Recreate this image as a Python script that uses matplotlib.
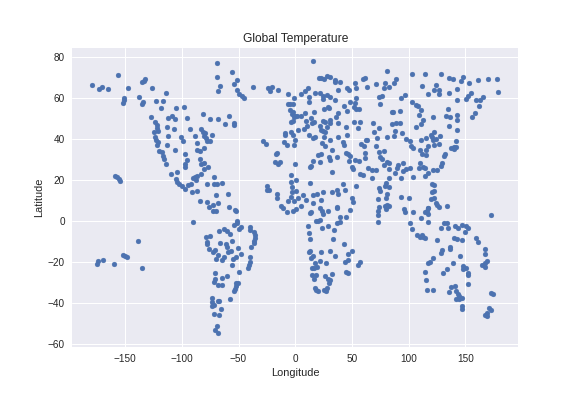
#!/usr/bin/python3
import matplotlib
matplotlib.use('Agg')
import matplotlib.pyplot as plt

title = 'Global Temperature'
xlabel = 'Longitude'
ylabel = 'Latitude'

# north america + pacific north
lon_na = [-179,-172.8,-170.2,-164.9,-156.1,-147.4,-150.9,-150.9,-151.8,-137.7,-135.1,-133.6,-132.5,-126.3,-114,-134.2,-135.1,-122.8,-116.7,-118.4,-105.3,-98.2,-127.2,-123.7,-121.9,-112.3,-108.8,-106.1,-95.6,-81.6,-75.4,-67.8,-121.9,-124.6,-121,-113.2,-107,-93,-83.3,-81.6,-79.8,-80.7,-88.6,-100.9,-99.1,-112.3,-123.7,-122.8,-121,-121.9,-113.2,-106.1,-86.8,-80.7,-86.8,-84.2,-73.4,-78.7,-78.1,-75.4,-120.2,-117.5,-116.7,-115.8,-114,-97.4,-95.6,-97.4,-97.4,-84.2,-83.3,-80.7,-77.2,-80.7,-83.3,-109.6,-104.4,-105.3,-104.4,-102.6,-100,-97.1,-94.7,-92.1,-91.2,-86.8,-90.4,-88.6,-86.8,-87.7,-71.6,-78.1,-71.6,-68.7,-70.2,-84.2,-78.1,-72.8,-76.3,-67.8,-158.8,-157,-155.3,-154.4,-69.3,-69.3,-68.4,-66,-64.3,-59.6,-58,-61.7,-53.8,-53.8]
lat_na = [66.3,64.4,65.3,64.4,71.2,64.9,60.1,59.1,57.5,60.4,67.8,68.3,69.2,64.8,62.4,58,57,58.5,58.5,55.1,55.1,55.5,50.7,48.2,46.7,50.2,51.1,49.7,50.2,52.1,49.7,49.7,45.3,43.3,43.8,45.8,44.8,44.8,44.8,43.3,42.8,41.4,41.4,40.9,38.9,41.4,40.9,39.4,38.4,37,37,34.5,37.9,35.5,34.5,34,41.9,40.4,38.9,38.9,34,33.7,31.6,30.1,27.7,32.6,29.6,27.5,26.2,30.1,27.7,28.2,26.2,25.2,22.6,22.8,23.8,20.3,18.9,17.9,16.9,15.5,17.4,17.9,14,14.5,20.8,21.3,21.8,19.9,21.3,17.9,17.9,18.2,12.5,9.6,9.1,7.8,6.6,8.8,21.8,21.3,20.3,19.4,77,70.2,63.4,65.8,18.4,13,51.1,47.2,47.7,46.7]

# south america + pacific south
lon_sa = [-90.3,-58.8,-53.5,-52.3,-72.8,-69.9,-51.8,-51.8,-54.4,-48.2,-50,-40.3,-39.5,-36,-35.1,-35.1,-36,-36.8,-38.6,-39.5,-40.3,-41.2,-42.1,-50,-48.2,-50.9,-56.1,-57.9,-60.5,-63.2,-67.5,-75.4,-78.9,-78.1,-78.1,-66.7,-61.4,-60.5,-59.7,-57,-76.3,-72.8,-71,-68.4,-70.2,-64.9,-63.2,-55.3,-52.7,-56.1,-71,-64.9,-60.5,-71,-71.9,-68.4,-64.9,-52.7,-50.9,-52.7,-53.5,-54.4,-57.9,-73.7,-73.7,-71.9,-73.7,-68.4,-67.5,-65.8,-71.9,-67.5,-69.3,-71,-68.4,-138.6,-151.8,-150,-148.8,-159.6,-169.3,-173.7,-174.6,-135.1]
lat_sa = [-0.5,6.5,5.4,4.9,4.9,4.9,0,-1,-2,-2.9,-3.9,-2.9,-4.4,-5.4,-6.8,-8.3,-9.8,-10.8,-12.7,-17.6,-20,-21.5,-23,-24.9,-16.1,-13.2,-9.8,-6.4,-4.9,-3.9,-4.9,-7.3,-7.8,-10.3,-11.2,-10.8,-11.2,-12.7,-15.2,-14.7,-13.7,-15.2,-14.2,-16.6,-18.6,-19.1,-17.6,-18.6,-17.6,-21.5,-25.4,-27.9,-26.9,-28.4,-29.8,-31.3,-31.3,-30.3,-30.3,-31.8,-33.3,-34.2,-38.1,-37.7,-39.6,-41.1,-41.6,-39.1,-39.1,-43,-45.5,-46,-51.3,-53.3,-54.8,-9.8,-16.6,-17.3,-17.6,-21,-19.1,-19.6,-21,-23]

# greenland, europe, africa north, west asia
lon_eu = [-55.6,-53.8,-51.2,-51.2,-49.4,-46.8,-45,-37.1,-23.9,-22.2,-20.4,-15.2,-6.4,-1.2,15.5,5,8.5,11.1,12,12,17.3,21.6,24.3,24.3,27.8,30.4,34.8,20.8,22.5,25.1,27.8,30.4,34.8,34.8,39.2,37.4,45.3,47,52.3,53.2,59.4,61.1,63.7,53.8,48,42.7,52.3,51.5,53.2,55.8,45.3,37.4,35.7,28.7,25.1,29.5,16.4,8.5,5,1.5,-0.3,-2,-2.9,-4.7,-6.4,-4.7,-2,-1.2,-3.8,-2,9.4,13.7,16.4,14.6,10.2,7.6,2.3,24.3,26,30.4,30.4,37.4,21.6,22.5,24.3,27.8,26,44.4,51.5,56.7,55,45.3,37.4,30.4,25.1,17.3,15.5,12,-0.3,-2,-3.8,-9.1,-9.1,-1.2,-7.3,-9.9,-28.4,-25.7,23.4,26,32.2,41.8,42.7,57.6,60.2,62,61.1,61.1,44.4,46.2,48,47,52.3,55.8,49.7,50.6,56.7,59.4,36.6,29.5,30.4,21.6,19.9,22.5,15.5,13.7,12.9,-0.3,-16.1,-17,-17.9,-15.2,-13.5,32.2,-3.8,0.6,-3.8,-2.9,12.9,41.8,53.2,43.6,36.6,32.2,37.4,-24.9,-24.9,-23.1,-16.1,-16.1,-2.9,-3.8,0.6,2.3,6.7,15.5,19,24.3,22.5,9.4,-1.2,-6.4,15.5,49.7,50.6,5,-12.6,36.6]
lat_eu = [72.7,66.8,68.8,63.9,61.9,60.9,59.9,65.3,64.8,63.4,65.3,63.9,61.9,59.9,78,61.9,63.4,64.8,60.4,58,62.4,62.4,60.9,59.5,61.4,60.4,59,69.7,69.7,69.2,70.7,70.2,68.8,67.8,67.8,63.9,64.8,63.9,67.3,64.8,69.2,69.7,65.3,59.9,58,56,57.5,55.5,54.6,54.6,53.6,52.6,50.7,55.5,54.6,55.1,53.1,52.6,51.1,51.1,51.1,53.1,52.1,54.1,57,57,57,50.7,48.2,48.7,48.7,50.2,48.2,47.7,46.3,44.8,44.3,48.7,48.2,49.2,47.7,47.7,46.3,44.3,43.8,45.8,43.2,45.8,48.2,48.2,45.3,41.9,40.9,39.4,40.9,40.9,40.4,41.9,39.4,41.9,43.3,42.8,41.9,37,37,38.4,38.9,37.5,37.9,36.5,34.5,38.4,37,37.5,36.5,39.4,33.1,30.6,33.1,32.6,31.6,29.1,29.6,29.1,26.2,25.2,22.8,22.3,31.1,31.1,29.6,28.7,32.1,32.6,29.1,26.7,26.2,27.7,33.1,32.6,28.7,27.7,28.7,23.8,22.3,19.9,18.9,16.4,18.4,17.9,16.9,15,15,14,13,16.9,15,15,13,11,14,11.7,14.5,11,12.5,12.5,13,14,10,10,9.6,9.6,8.6,11,9.1,7.1,7.1,6.6]

# asia north of about 6N
lon_as = [80.7,102.6,114,128.9,136,139.5,148.2,146.5,153.5,161.4,170.2,178,178.9,71,78.9,78,82.5,86.8,88.6,96.5,93,73.7,76.3,74.6,111.4,123.7,122.8,127.2,127.2,117.5,136,143,143,155.3,152.6,150.9,159.6,163.2,165.8,162.3,158.8,156.1,135.1,133.3,136.8,143,143,136,143,121.9,102.6,106.1,107.9,110.5,108.8,112.3,110.5,106.1,85.1,86,92.1,68.4,73.9,69.3,85.1,88.6,92.1,87.7,93.9,86.8,80.7,71.9,63.2,97.4,100.9,101.8,103.5,110.5,115,119.3,122.8,128,121,124.5,121.9,127.2,122.8,117.5,142.1,137.7,140.4,140.4,142.1,109.6,114.9,111.4,114.9,132.5,131.6,129.8,128.1,125.4,121.9,109.6,108.8,112.3,114,116.7,114,103.5,100.9,97.4,94.7,94.7,90.4,89.5,87.7,93,82.5,82.5,80.7,82.5,78,78,73.9,74.6,76.3,71,64,67.5,71,67.5,79.8,78.9,82.5,73.7,74.6,80.7,79.8,72.8,73.7,80.7,82.5,93,100,121,122,121,122.8,119.3,122.8,123.7,125.4,127.2,134.2,116.7]
lat_as = [73.2,71.7,71.7,71.7,69.7,69.2,70.2,68.3,67.3,68.8,69.2,69.2,62.9,66.8,67.3,64.8,65.3,67.3,69.2,61.4,59.9,60.4,60.9,57,65.8,66.3,63.9,63.9,61.9,61.9,62.4,64.4,59,62.4,60.9,59.5,59,59,60.4,56,52.6,50.7,54.6,51.1,50.7,51.6,49.2,46.3,44.3,50.7,58,56.5,56,54.1,51.6,49.2,47.2,45.8,53.1,53.1,53.6,47.7,45.3,43.3,47.2,47.7,47.7,43.8,42.8,41.4,40.9,40.4,39.4,39.9,38.9,36.5,35.5,39.4,40.4,41.9,43.3,41.4,40.9,39.9,39.4,37.5,37,36.5,38.9,35.5,36,35,36,34.5,34.5,32.6,32.1,32.6,31.6,28.2,26.7,24.7,24.7,28.2,25.8,26.3,25.8,23.3,21.8,21.3,25.8,25.3,28.2,24.3,27.2,25.8,23.3,20.8,25.3,20.8,28.7,28.2,27.2,34,33.5,31.1,30.1,36.5,25.7,24.7,24.7,20.8,18.4,16.9,16.4,15.9,14.5,13,11,10.6,6.6,7.1,7.1,11.5,11,17.9,17.3,14,14.5,10.6,11,8.6,7.6,6.6,7.1,6]

# africa south of about 6N
lon_af = [-7,-1.8,0.9,-10.5,13.2,14,21.9,23.7,28.9,24.6,36.8,48.2,39.5,44.7,36.8,39.5,18.4,20.1,21.9,11.4,12.3,13.2,23.7,28.9,34.2,33.3,43,12.3,13.2,22.8,30.7,35.1,46.5,50,14,15.8,21.9,27.2,17.5,43.9,46.5,55.3,57,14.9,16.7,19.2,32.5,44.7,46.5,14.9,18.4,16.7,26.3,28.9,30.7,29.8,28.1,25.4,17.5,18.4,20.2,27.2,72.8,72.8,72.8,80.7,80.1,79.2]
lat_af = [4.4,4.9,5.9,6.4,3.9,4.4,6.4,4.9,4.9,3.4,6.4,5.4,2,2,-1,-0.5,0,0,0.5,-2.4,-5.9,-8.8,-3.4,-2.4,-4.4,-8.8,-11.2,-15.2,-14.7,-15.2,-14.7,-17.1,-16.1,-14.7,-18.1,-17.1,-19.6,-20.5,-20.5,-20,-19.1,-21.5,-20,-23,-23,-22.5,-25.9,-24.9,-25.3,-26.4,-26.4,-28.4,-26.9,-28.4,-28.9,-30.3,-32.8,-33.7,-32.8,-33.7,-34.2,-34.2,-0.5,2.9,5,7.5,5.9,7]

# se asia, australia, oceania
lon_oc = [95.6,96.5,103.5,114,116.7,117.5,116,110.5,100.9,102.6,117.5,128.1,131.6,134.2,135.1,141.2,143.9,147.4,150.9,152.6,150,172.8,107,111.4,112.3,114,109.6,124.6,140.4,143,147.4,159.6,161.4,167.5,167.5,169.3,167.5,164.9,167.5,136.8,136.8,129.8,128.9,145.6,121.9,118.4,117.5,139.5,148.2,148.2,150.9,134.2,130.7,114,114.9,152.6,152.6,152.6,115.8,121.9,137.7,141.2,136,142.1,143.9,144.7,142.1,144.7,147.4,147.4,147.4,172.8,174.5,171,172.8,169.3,167.5,169.3]
lat_oc = [5.5,4.4,4.4,4.4,6.4,3.4,4.6,1.5,-1,-3.9,-0.5,-3.4,-1,-1,-3.4,-2.4,-3.4,-2,-2.4,-3.4,-5.4,2.9,-6.8,-6.8,-7.8,-8.5,-7.8,-9.3,-8.3,-8.8,-9.3,-8.3,-10.3,-13.7,-16.1,-19.6,-20.5,-21.5,-22.5,-12.7,-13.7,-14.2,-15.6,-17.1,-18.1,-20,-20.5,-20.5,-22,-23.5,-23,-23.5,-25.4,-24.9,-28.9,-25.4,-26.7,-31.1,-33.7,-33.7,-32.3,-31.8,-34.7,-34.2,-35.7,-36.7,-38.1,-38.1,-37.7,-41.6,-43,-35.2,-35.7,-42.5,-43.5,-45,-46,-46.5]

lon = lon_na + lon_sa + lon_eu + lon_as + lon_af + lon_oc
lat = lat_na + lat_sa + lat_eu + lat_as + lat_af + lat_oc

plt.style.use('seaborn-v0_8')
plt.rcParams['font.family'] = ['Liberation Sans', 'DejaVu Sans']

fig, ax = plt.subplots(figsize=(8, 5.5), dpi=72)
ax.scatter(lon, lat, s=24, color='#4C72B0')
ax.set_title(title)
ax.set_xlabel(xlabel)
ax.set_ylabel(ylabel)
fig.subplots_adjust(left=0.125, right=0.9, bottom=0.125, top=0.88)
fig.savefig('out.png', dpi=72)
